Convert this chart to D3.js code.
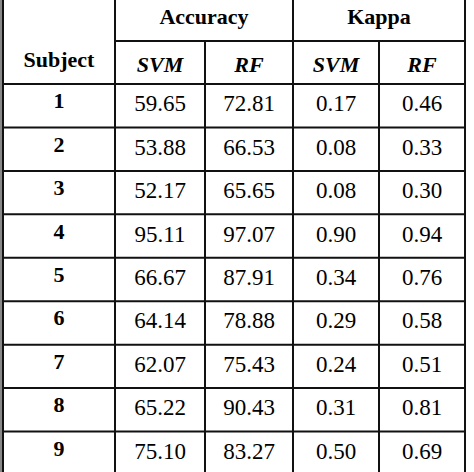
<!DOCTYPE html><html><head><meta charset="utf-8"><script src="https://cdn.jsdelivr.net/npm/d3@7"></script>
<style>body{margin:0;background:#fff}</style></head><body><svg id="c" width="474" height="472"></svg>
<script>
const subjects=["1","2","3","4","5","6","7","8","9"];
const accSVM=["59.65","53.88","52.17","95.11","66.67","64.14","62.07","65.22","75.10"];
const accRF=["72.81","66.53","65.65","97.07","87.91","78.88","75.43","90.43","83.27"];
const kapSVM=["0.17","0.08","0.08","0.90","0.34","0.29","0.24","0.31","0.50"];
const kapRF=["0.46","0.33","0.30","0.94","0.76","0.58","0.51","0.81","0.69"];
const groups=["Accuracy","Kappa"], methods=["SVM","RF","SVM","RF"];
const svg=d3.select("#c");
const colX=[3,115,205,293,379,465];
const y=d3.scaleLinear().domain([0,9]).range([84,475]);
const F="Liberation Serif, serif";
const g=svg.append("g").attr("stroke","#111").attr("stroke-width",2);
g.append("line").attr("x1",colX[0]).attr("x2",colX[5]).attr("y1",-1).attr("y2",-1);
g.append("line").attr("x1",colX[1]).attr("x2",colX[5]).attr("y1",41).attr("y2",41);
d3.range(10).forEach(i=>g.append("line").attr("x1",colX[0]).attr("x2",colX[5]).attr("y1",y(i)).attr("y2",y(i)));
[0,1,3,5].forEach(i=>g.append("line").attr("x1",colX[i]).attr("x2",colX[i]).attr("y1",-1).attr("y2",475));
[2,4].forEach(i=>g.append("line").attr("x1",colX[i]).attr("x2",colX[i]).attr("y1",41).attr("y2",475));
svg.append("rect").attr("x",0).attr("y",0).attr("width",2).attr("height",472).attr("fill","#888");
const t=(x,yy,s,o={})=>svg.append("text").attr("x",x).attr("y",yy).attr("text-anchor","middle").attr("dominant-baseline","central")
 .style("font-family",F).attr("font-size",o.size||23).attr("font-weight",o.bold?"bold":"normal").attr("font-style",o.it?"italic":"normal").text(s);
groups.forEach((gname,i)=>t((colX[1+2*i]+colX[3+2*i])/2,16,gname,{bold:1,size:22}));
t((colX[0]+colX[1])/2,59,"Subject",{bold:1,size:22});
methods.forEach((m,i)=>t((colX[i+1]+colX[i+2])/2,64,m,{bold:1,it:1,size:22}));
const cols=[accSVM,accRF,kapSVM,kapRF];
subjects.forEach((s,r)=>{
 const cy=(y(r)+y(r+1))/2-2;
 t((colX[0]+colX[1])/2,cy-3,s,{bold:1,size:22});
 cols.forEach((c,j)=>t((colX[j+1]+colX[j+2])/2,cy,c[r]));
});
</script></body></html>
